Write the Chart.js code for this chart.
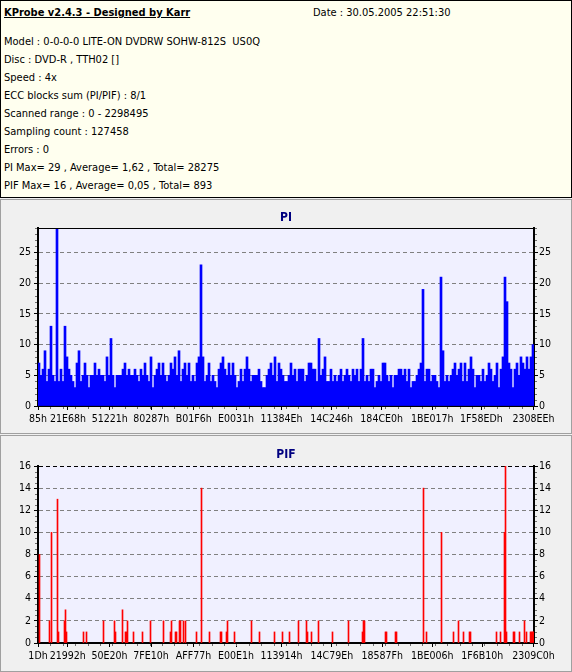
<!DOCTYPE html>
<html>
<head>
<meta charset="utf-8">
<script src="https://cdn.jsdelivr.net/npm/chart.js@4.4.1/dist/chart.umd.min.js"></script>
<style>
body{margin:0;width:572px;height:672px;overflow:hidden;position:relative;background:#f0f0f0;
  font-family:"DejaVu Sans Condensed","DejaVu Sans",sans-serif;font-size:11px;color:#000}
#info{position:absolute;left:0;top:0;width:570px;height:196px;border:1px solid #000;background:#ffffef}
.ln{position:absolute;left:3px;line-height:18px;white-space:pre}
.panel{position:absolute;left:0;width:570px;border:1px solid #a0a0a0;background:#f0f0f0}
canvas{display:block}
</style>
</head>
<body>
<div id="info">
  <div class="ln" style="top:3px"><b><u>KProbe v2.4.3 - Designed by Karr</u></b></div>
  <div class="ln" style="top:3px;left:312px">Date : 30.05.2005 22:51:30</div>
  <div class="ln" style="top:32px">Model : 0-0-0-0 LITE-ON DVDRW SOHW-812S  US0Q</div>
  <div class="ln" style="top:50px">Disc : DVD-R , TTH02 []</div>
  <div class="ln" style="top:68px">Speed : 4x</div>
  <div class="ln" style="top:86px">ECC blocks sum (PI/PIF) : 8/1</div>
  <div class="ln" style="top:104px">Scanned range : 0 - 2298495</div>
  <div class="ln" style="top:122px">Sampling count : 127458</div>
  <div class="ln" style="top:140px">Errors : 0</div>
  <div class="ln" style="top:158px">PI Max= 29 , Average= 1,62 , Total= 28275</div>
  <div class="ln" style="top:176px">PIF Max= 16 , Average= 0,05 , Total= 893</div>
</div>
<div class="panel" style="top:199px"><canvas id="pi" width="570" height="233"></canvas></div>
<div class="panel" style="top:435px"><canvas id="pif" width="570" height="235"></canvas></div>
<script>
var scanEnd = 2298495;

// PI: x tick positions (LBA), one value per sampling bin across the scan
var piTicks = [0x85, 0x21E68, 0x51221, 0x80287, 0xB01F6, 0xE0031, 0x11384E, 0x14C246, 0x184CE0, 0x1BE017, 0x1F58ED, 0x2308EE];
var piValues = [
  7,5,6,9,4,6,13,5,4,29, 4,6,4,13,8,6,5,4,3,7, 9,4,5,7,5,3,5,5,7,5, 6,5,5,4,8,5,11,5,3,5,
  5,5,6,7,5,6,5,5,6,5, 4,6,5,7,5,4,8,3,5,6, 7,5,
  7,5,4,5,7,6,8,5,9,4, 6,7,5,7,4,5,4,7,8,23, 8,4,5,7,4,5,4,3,6,7, 8,6,5,7,5,7,5,3,4,6,
  4,6,8,6,4,5,5,5,6,4, 3,3,5,6,7,5,8,4,7,6,5,
  4,4,5,7,5,6,4,6,6,6, 4,5,7,7,6,6,4,11,5,6, 8,4,4,6,4,5,4,5,6,4, 5,6,5,4,6,5,6,4,6,11,
  4,5,4,6,6,3,4,5,4,7, 7,5,4,5,3,5,5,6,6,5, 6,4,6,
  3,4,4,5,6,7,19,4,6,6, 4,5,5,4,3,21,9,4,5,4, 5,6,7,5,6,7,4,7,4,6, 8,6,3,5,5,4,6,4,5,7,
  6,4,5,7,3,6,8,21,17,7, 6,3,6,7,5,8,7,6,8,6, 8,10
];

// PIF: x tick positions (LBA), and the sparse error samples (LBA, count)
var pifTicks = [0x1D, 0x21992, 0x50E20, 0x7FE10, 0xAFF77, 0xE00E1, 0x113914, 0x14C79E, 0x18587F, 0x1BE006, 0x1F6B10, 0x2309C0];
var pifLba = [
  6951, 53292, 62560, 90364, 94998, 122803, 127437, 132071, 210850, 224752,
  303532, 354506, 359140, 391579, 405481, 410115, 414749, 442554, 484260, 521333,
  581576, 614015, 618648, 637185, 641819, 655721, 660355, 674257, 683525, 734500,
  757670, 794743, 845717, 850351, 873522, 878156, 910595, 989374, 1026447, 1095957,
  1133030, 1165469, 1207175, 1244248, 1248882, 1267418, 1299857, 1364733, 1438879, 1503756,
  1508390, 1513024, 1610339, 1614973, 1656680, 1661314, 1786434, 1800336, 1869847, 1925456,
  1948626, 1971797, 1999601, 2004235, 2124721, 2143257, 2161794, 2166428, 2171062, 2203500,
  2208134, 2231305, 2254475, 2263743, 2282279, 2286913, 2291547, 2296181
];
var pifValues = [
  8,2,10,13,1,2,3,1,1,1,
  2,2,1,3,1,1,2,1,1,2,
  2,1,2,1,1,2,2,2,2,1,
  14,1,1,1,1,2,1,2,1,1,
  1,1,2,2,1,1,2,1,2,1,
  2,2,1,1,1,1,14,1,10,1,
  2,1,1,1,1,1,10,16,1,1,
  1,1,2,1,1,1,1,1
];

var fontFamily = '"DejaVu Sans Condensed", "DejaVu Sans", sans-serif';
Chart.defaults.color = '#000';
Chart.defaults.font.family = fontFamily;

function hexLabel(v) { return v.toString(16).toUpperCase() + 'h'; }

// plot background, top edge and the small minor ticks
var frame = {
  id: 'frame',
  beforeDraw: function (chart) {
    var a = chart.chartArea, ctx = chart.ctx;
    ctx.save();
    ctx.fillStyle = '#f0f0ff';
    ctx.fillRect(a.left, a.top, a.right - a.left, a.bottom - a.top);
    ctx.restore();
  },
  afterDraw: function (chart, args, opts) {
    var a = chart.chartArea, ctx = chart.ctx;
    var y = chart.scales.y, x = chart.scales.x;
    ctx.save();
    ctx.lineWidth = 1;
    if (opts.topLine) {
      ctx.strokeStyle = '#000';
      ctx.beginPath();
      ctx.moveTo(a.left, a.top + 0.5); ctx.lineTo(a.right, a.top + 0.5);
      ctx.stroke();
    }
    ctx.strokeStyle = '#707070';
    ctx.beginPath();
    var per = Math.round(opts.majorY / opts.minorY);
    for (var k = 0; k * opts.minorY <= y.max; k++) {
      if (k % per === 0) continue;
      var py = Math.round(y.getPixelForValue(k * opts.minorY)) + 0.5;
      ctx.moveTo(a.left - 1, py); ctx.lineTo(a.left - 3, py);
      ctx.moveTo(a.right + 1, py); ctx.lineTo(a.right + 3, py);
    }
    for (var j = 1; j < 40; j++) {
      var px = Math.round(x.getPixelForValue(scanEnd * j / 40)) + 0.5;
      ctx.moveTo(px, a.bottom + 1); ctx.lineTo(px, a.bottom + 3);
    }
    ctx.stroke();
    ctx.restore();
  }
};

function yAxis(pos, max, step, pad, w) {
  return {
    position: pos, min: 0, max: max,
    afterFit: function (s) { s.width = w; },
    ticks: { stepSize: step, includeBounds: false, padding: pad, font: { size: 10.5 } },
    grid: {
      drawOnChartArea: pos === 'left',
      color: function (c) {
        if (!c.tick || c.tick.value === 0) return 'rgba(0,0,0,0)';
        return c.tick.value === max ? '#000' : '#808080';
      },
      tickLength: 4, tickColor: '#000'
    },
    border: { color: '#000', width: 2, dash: [4, 3] }
  };
}

function makeChart(id, o) {
  return new Chart(document.getElementById(id), {
    type: 'bar',
    data: {
      datasets: [{
        data: o.points,
        backgroundColor: o.color,
        barThickness: o.barWidth,
        borderWidth: 0
      }]
    },
    options: {
      responsive: false,
      animation: false,
      events: [],
      layout: { padding: 0 },
      plugins: {
        legend: { display: false },
        tooltip: { enabled: false },
        title: {
          display: true, text: o.title, color: '#000080',
          font: { size: 12, weight: 'bold' },
          padding: { top: o.titleTop, bottom: o.titleBottom }
        },
        frame: { topLine: o.topLine, minorY: o.minorY, majorY: o.step }
      },
      scales: {
        x: {
          type: 'linear', min: 0, max: scanEnd, offset: false,
          afterBuildTicks: function (s) { s.ticks = o.ticks.map(function (v) { return { value: v }; }); },
          afterFit: function (s) { s.height = o.xHeight; },
          ticks: { autoSkip: false, maxRotation: 0, padding: 3, font: { size: 10.5 }, callback: hexLabel },
          grid: { drawOnChartArea: false, offset: false, tickLength: 4, tickColor: '#000' },
          border: { color: '#000', width: 2 }
        },
        y: yAxis('left', o.max, o.step, 3, 37),
        y2: yAxis('right', o.max, o.step, 1, 37)
      }
    },
    plugins: [frame]
  });
}

var piStep = scanEnd / piValues.length;
makeChart('pi', {
  title: 'PI', color: '#0000ff', barWidth: 2,
  points: piValues.map(function (v, i) { return { x: (i + 0.5) * piStep, y: v }; }),
  ticks: piTicks, max: 29, step: 5, minorY: 1, topLine: true,
  titleTop: 11, titleBottom: 2.6, xHeight: 27
});

makeChart('pif', {
  title: 'PIF', color: '#ff0000', barWidth: 1,
  points: pifLba.map(function (x, i) { return { x: x, y: pifValues[i] }; }),
  ticks: pifTicks, max: 16, step: 2, minorY: 0.5, topLine: false,
  titleTop: 12, titleBottom: 3.6, xHeight: 28
});
</script>
</body>
</html>
